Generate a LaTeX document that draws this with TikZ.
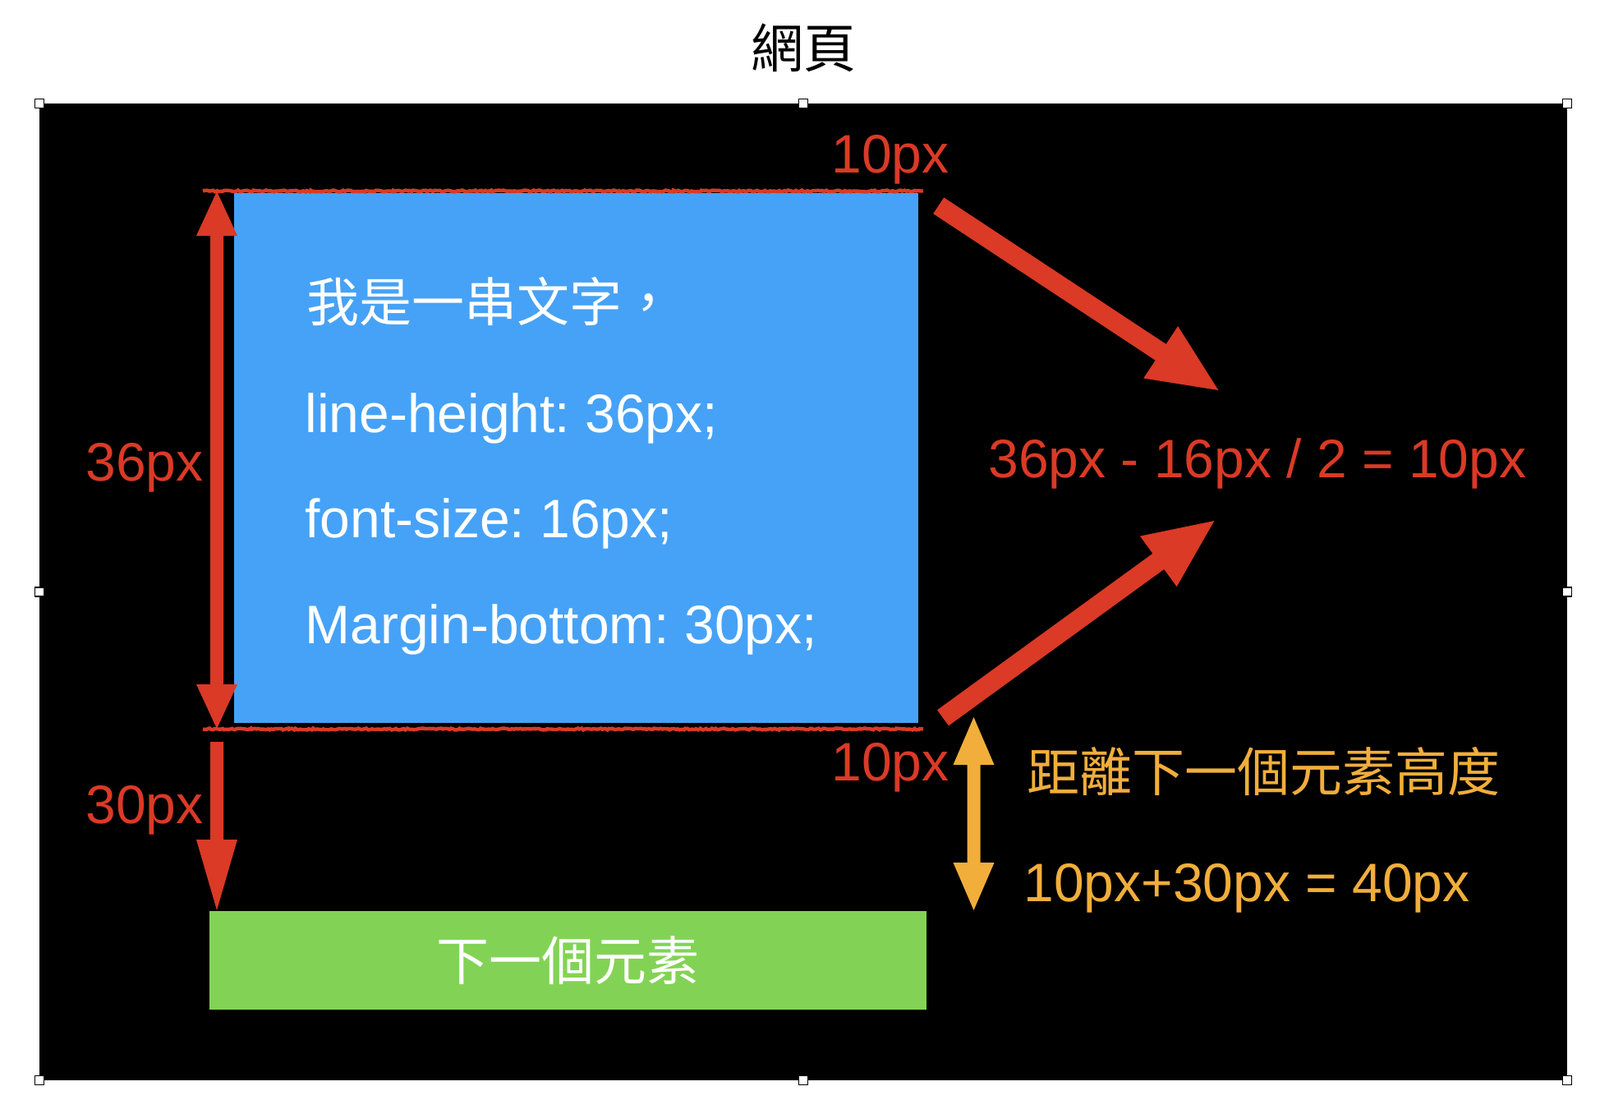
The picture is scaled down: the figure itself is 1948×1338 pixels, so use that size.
\documentclass[tikz,border=0pt]{standalone}
\usepackage{fontspec}
\setmainfont{Liberation Sans}
\newfontfamily\cjkfont{Noto Sans CJK TC}
\usetikzlibrary{calc,decorations.pathmorphing}
\frenchspacing
\definecolor{boxblue}{RGB}{70,162,246}
\definecolor{boxgreen}{RGB}{130,211,85}
\definecolor{markred}{RGB}{218,58,38}
\definecolor{markorange}{RGB}{241,174,59}
% single-headed fat arrow: style, tail, tip, shaft half width, head half width, head length
\newcommand\fatarrow[6]{%
  \path ($(#3)!#6!(#2)$) coordinate (fah);
  \fill[#1] ($(#2)!#4!90:(#3)$) -- ($(fah)!#4!90:(#3)$) -- ($(fah)!#5!90:(#3)$) -- (#3)
    -- ($(fah)!#5!-90:(#3)$) -- ($(fah)!#4!-90:(#3)$) -- ($(#2)!#4!-90:(#3)$) -- cycle;}
% double-headed fat arrow
\newcommand\fatdarrow[6]{%
  \path ($(#3)!#6!(#2)$) coordinate (fahb) ($(#2)!#6!(#3)$) coordinate (faha);
  \fill[#1] (#2) -- ($(faha)!#5!90:(#3)$) -- ($(faha)!#4!90:(#3)$) -- ($(fahb)!#4!90:(#3)$)
    -- ($(fahb)!#5!90:(#3)$) -- (#3) -- ($(fahb)!#5!-90:(#3)$) -- ($(fahb)!#4!-90:(#3)$)
    -- ($(faha)!#4!-90:(#3)$) -- ($(faha)!#5!-90:(#3)$) -- cycle;}
\begin{document}
\begin{tikzpicture}[x=0.5pt,y=-0.5pt,
  latin/.style={inner sep=0pt, font=\fontsize{33pt}{40pt}\selectfont},
  cjk/.style={inner sep=0pt, font=\cjkfont\fontsize{32pt}{38pt}\selectfont},
  handle/.style={draw=black, line width=0.6pt, fill=white, minimum size=5.5pt, inner sep=0pt},
  redline/.style={markred, line width=2.2pt, decorate, decoration={random steps, segment length=1.2pt, amplitude=0.5pt}}]
\useasboundingbox (0,0) rectangle (1948,1338);
\fill[white] (0,0) rectangle (1948,1338);
\fill[black] (48,126) rectangle (1908,1315);

\node[fill=boxblue, minimum width=416.5pt, minimum height=322.5pt, inner sep=0pt] (blue) at (701.5,557.5) {};
\node[fill=boxgreen, minimum width=436.5pt, minimum height=60pt, cjk, text=white] (green) at (691.5,1169) {下一個元素};

\draw[redline] (247,232.5) -- (1124,232.5);
\draw[redline] (247,887.5) -- (1124,887.5);

\coordinate (a1t) at (264,233);
\coordinate (a1b) at (264,887);
\fatdarrow{markred}{a1t}{a1b}{4pt}{12.5pt}{27pt}
\coordinate (a2s) at (264,903);
\coordinate (a2e) at (264,1108);
\fatarrow{markred}{a2s}{a2e}{4pt}{12.5pt}{43pt}
\coordinate (d1s) at (1142.7,250.3);
\coordinate (d1e) at (1483.3,475);
\fatarrow{markred}{d1s}{d1e}{5.9pt}{19pt}{42pt}
\coordinate (d2s) at (1148,873.8);
\coordinate (d2e) at (1478.3,634);
\fatarrow{markred}{d2s}{d2e}{5.9pt}{19pt}{42pt}
\coordinate (o1t) at (1185.5,873);
\coordinate (o1b) at (1185.5,1108);
\fatdarrow{markorange}{o1t}{o1b}{4pt}{12.5pt}{29pt}

\node[cjk, anchor=center] (title) at (978,58) {網頁};
\node[cjk, white, anchor=base west] (l1) at (373,391.5) {我是一串文字，};
\node[latin, white, anchor=base west] (l2) at (371,526) {line-height: 36px;};
\node[latin, white, anchor=base west] (l3) at (371,654) {font-size: 16px;};
\node[latin, white, anchor=base west] (l4) at (371,783) {Margin-bottom: 30px;};
\node[latin, markred, anchor=base east] (lab36) at (248,585) {36px};
\node[latin, markred, anchor=base east] (lab30) at (248,1002) {30px};
\node[latin, markred, anchor=base east] (lab10a) at (1156,210) {10px};
\node[latin, markred, anchor=base east] (lab10b) at (1156,950) {10px};
\node[latin, markred, anchor=base west] (formula) at (1203,581) {36px - 16px / 2 = 10px};
\node[cjk, markorange, anchor=west] (dist) at (1250,939) {距離下一個元素高度};
\node[latin, markorange, anchor=base west] (sum) at (1246,1097) {10px+30px = 40px};

\node[handle] (h1) at (48,126) {};
\node[handle] (h2) at (978,126) {};
\node[handle] (h3) at (1908,126) {};
\node[handle] (h4) at (48,720.5) {};
\node[handle] (h5) at (1908,720.5) {};
\node[handle] (h6) at (48,1315) {};
\node[handle] (h7) at (978,1315) {};
\node[handle] (h8) at (1908,1315) {};
\end{tikzpicture}
\end{document}
